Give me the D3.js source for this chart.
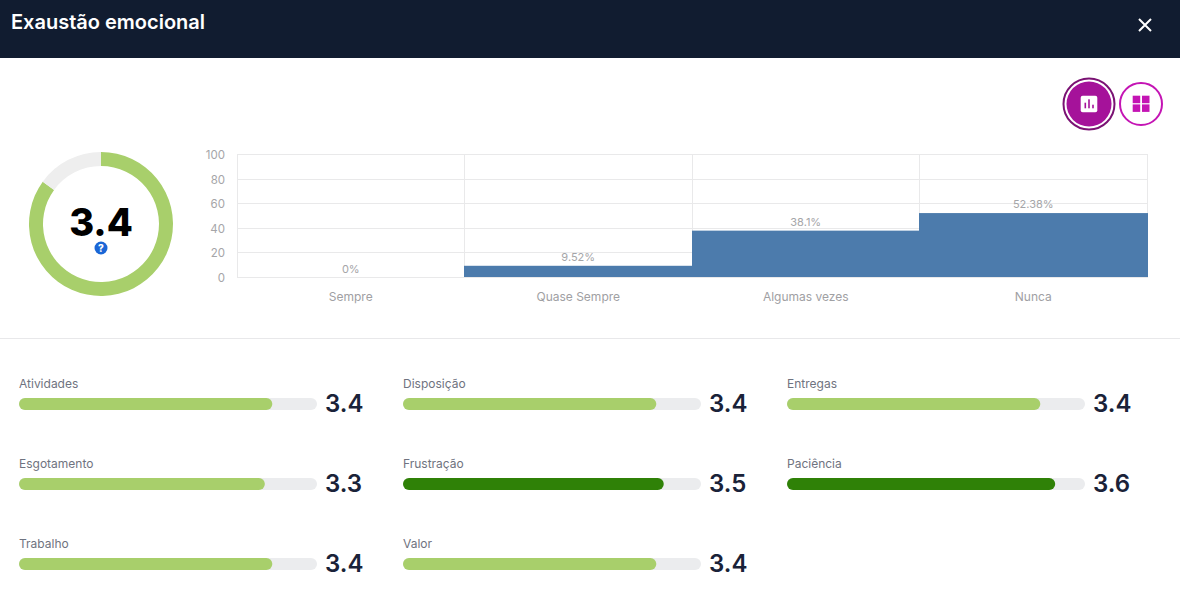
<!DOCTYPE html>
<html>
<head>
<meta charset="utf-8">
<script src="https://cdn.jsdelivr.net/npm/d3@7"></script>
<style>
html,body{margin:0;padding:0;background:#fff;overflow:hidden}
svg{display:block;font-family:Inter,"Noto Sans",sans-serif}
</style>
</head>
<body>
<svg id="chart" width="1180" height="615"></svg>
<script>
const titleText = "Exaustão emocional";
const overallScore = 3.4;
const scoreMax = 4;
const answerLabels = ["Sempre", "Quase Sempre", "Algumas vezes", "Nunca"];
const answerValues = [0, 9.52, 38.1, 52.38];
const yTicks = [0, 20, 40, 60, 80, 100];
const itemNames = ["Atividades", "Disposição", "Entregas", "Esgotamento", "Frustração", "Paciência", "Trabalho", "Valor"];
const itemScores = [3.4, 3.4, 3.4, 3.3, 3.5, 3.6, 3.4, 3.4];
const highScoreFrom = 3.5;

const LIGHT_GREEN = "#a8cf6b", DARK_GREEN = "#2f8107", NAVY = "#111c30";
const svg = d3.select("#chart");

// Header band
svg.append("rect").attr("width", 1180).attr("height", 58).attr("fill", NAVY);
svg.append("text").attr("x", 11).attr("y", 29).attr("fill", "#fff")
  .attr("font-size", 20).attr("font-weight", 600).text(titleText);
svg.append("path").attr("d", "M1139 19L1151 31M1151 19L1139 31")
  .attr("stroke", "#fff").attr("stroke-width", 2).attr("fill", "none");

// View switch buttons
const btnA = svg.append("g").attr("transform", "translate(1089,104)");
btnA.append("circle").attr("r", 25.5).attr("fill", "#fff").attr("stroke", "#7a1273").attr("stroke-width", 2);
btnA.append("circle").attr("r", 22.5).attr("fill", "#a5129a");
btnA.append("rect").attr("x", -8.3).attr("y", -8.3).attr("width", 16.6).attr("height", 16.6).attr("rx", 2).attr("fill", "#fff");
[[-4.5, -1.3, 5.6], [-0.8, -4.7, 9], [3.2, 0.7, 3.6]].forEach(([x, y, h]) =>
  btnA.append("rect").attr("x", x).attr("y", y).attr("width", 1.6).attr("height", h).attr("fill", "#a5129a"));

const btnB = svg.append("g").attr("transform", "translate(1141,104)");
btnB.append("circle").attr("r", 21).attr("fill", "#fff").attr("stroke", "#c414b4").attr("stroke-width", 2);
[[-8.3, -8.3], [1, -8.3], [-8.3, 0.4], [1, 0.4]].forEach(([x, y]) =>
  btnB.append("rect").attr("x", x).attr("y", y).attr("width", 7.5).attr("height", 7.5).attr("fill", "#c414b4"));

// Score donut
const donut = svg.append("g").attr("transform", "translate(101,224)");
const pie = d3.pie().sort(null)([overallScore, scoreMax - overallScore]);
const arc = d3.arc().innerRadius(58).outerRadius(72);
donut.selectAll("path").data(pie).join("path")
  .attr("d", arc).attr("fill", (d, i) => i === 0 ? LIGHT_GREEN : "#eeeeee");
donut.append("text").attr("text-anchor", "middle").attr("y", 12)
  .attr("font-size", 38).attr("font-weight", 800).attr("fill", "#000").text(overallScore.toFixed(1));
donut.append("circle").attr("cy", 24).attr("r", 6.5).attr("fill", "#1a66d6");
donut.append("text").attr("text-anchor", "middle").attr("y", 28).attr("font-size", 10)
  .attr("font-weight", 800).attr("fill", "#fff").text("?");

// Answer distribution bars
const x = d3.scaleBand().domain(answerLabels).range([237, 1147]);
const y = d3.scaleLinear().domain([0, 100]).range([277.5, 154.5]);
const edge = d => Math.floor(d);
const plot = svg.append("g");
plot.selectAll(".gy").data(yTicks).join("line").attr("class", "gy")
  .attr("x1", 237).attr("x2", 1147.5)
  .attr("y1", d => edge(y(d)) + 0.5).attr("y2", d => edge(y(d)) + 0.5)
  .attr("stroke", "#e9e9ea");
plot.selectAll(".gx").data([...answerLabels.map(d => x(d)), 1147]).join("line").attr("class", "gx")
  .attr("x1", d => edge(d) + 0.5).attr("x2", d => edge(d) + 0.5)
  .attr("y1", 154).attr("y2", 278).attr("stroke", "#e9e9ea");
plot.selectAll(".yl").data(yTicks).join("text").attr("class", "yl")
  .attr("x", 225).attr("y", d => y(d) + 4.5).attr("text-anchor", "end")
  .attr("font-size", 11.5).attr("fill", "#a5a5a8").text(d => d);
plot.selectAll(".bar").data(answerValues).join("rect").attr("class", "bar")
  .attr("x", (d, i) => edge(x(answerLabels[i])))
  .attr("width", (d, i) => edge(x(answerLabels[i]) + x.bandwidth()) - edge(x(answerLabels[i])) + (i === 3 ? 1 : 0))
  .attr("y", d => y(d)).attr("height", d => 277 - y(d))
  .attr("fill", "#4c7bac");
plot.selectAll(".vl").data(answerValues).join("text").attr("class", "vl")
  .attr("x", (d, i) => x(answerLabels[i]) + x.bandwidth() / 2).attr("y", d => y(d) - 5)
  .attr("text-anchor", "middle").attr("font-size", 11).attr("fill", "#a5a5a8").text(d => d + "%");
plot.selectAll(".xl").data(answerLabels).join("text").attr("class", "xl")
  .attr("x", d => x(d) + x.bandwidth() / 2).attr("y", 301)
  .attr("text-anchor", "middle").attr("font-size", 12).attr("fill", "#a0a0a3").text(d => d);

// Section divider
svg.append("line").attr("x1", 0).attr("x2", 1180).attr("y1", 338.5).attr("y2", 338.5).attr("stroke", "#e8e8ea");

// Per-item score meters
const meterW = d3.scaleLinear().domain([0, scoreMax]).range([0, 298]);
const items = svg.selectAll(".item").data(itemNames).join("g").attr("class", "item")
  .attr("transform", (d, i) => `translate(${19 + (i % 3) * 384},${378 + Math.floor(i / 3) * 80})`);
items.append("text").attr("y", 10).attr("font-size", 12).attr("fill", "#6f7380").text(d => d);
items.append("rect").attr("y", 20).attr("width", meterW(scoreMax)).attr("height", 12).attr("rx", 6).attr("fill", "#ebecee");
items.append("rect").attr("y", 20).attr("height", 12).attr("rx", 6)
  .attr("width", (d, i) => meterW(itemScores[i]))
  .attr("fill", (d, i) => itemScores[i] >= highScoreFrom ? DARK_GREEN : LIGHT_GREEN);
items.append("text").attr("x", 306).attr("y", 34).attr("font-size", 24).attr("font-weight", 600)
  .attr("fill", "#1a2238").text((d, i) => itemScores[i].toFixed(1));
</script>
</body>
</html>
